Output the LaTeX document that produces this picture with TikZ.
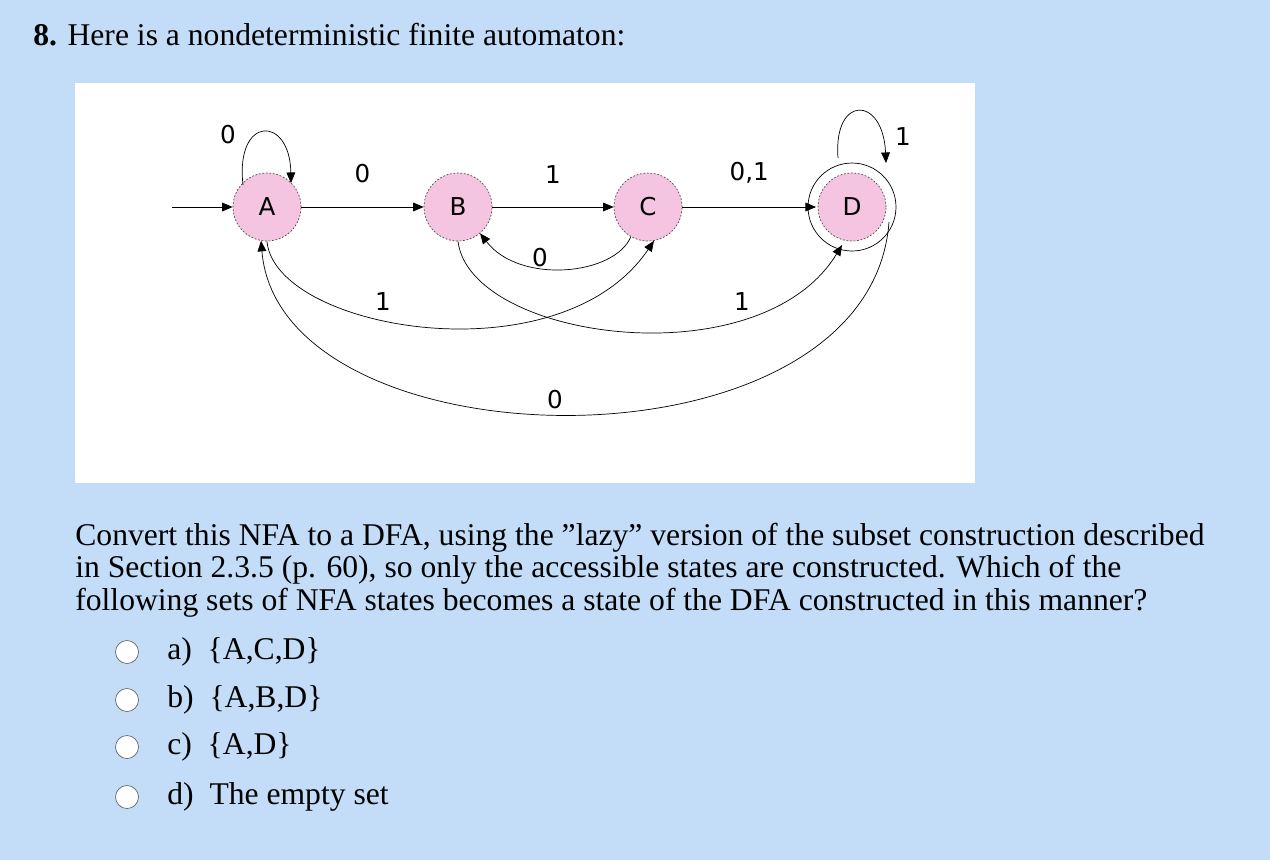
\documentclass[tikz,border=0pt]{standalone}
\usepackage{fontspec}
\setmainfont[Ligatures=Common]{Liberation Serif}
\newfontfamily\dv{DejaVu Sans}
\usetikzlibrary{arrows.meta}
\definecolor{bg}{HTML}{C3DDF8}
\definecolor{pinkfill}{HTML}{F4C4E0}
\begin{document}
\begin{tikzpicture}[x=0.02cm,y=-0.02cm,
  st/.style={circle,draw=black!70,dashed,dash pattern=on 1pt off 1pt,fill=pinkfill,minimum size=1.36cm,inner sep=0pt,font=\dv\fontsize{14}{14}\selectfont},
  ed/.style={draw,thin,-{Triangle[length=6pt,width=5pt]}},
  lb/.style={font=\dv\fontsize{14}{14}\selectfont},
  q/.style={anchor=west,font=\fontsize{18}{19}\selectfont},
  radio/.style={circle,draw=black!60,fill=white,minimum size=0.46cm,inner sep=0pt}]
\fill[bg] (0,0) rectangle (1270,860);
\useasboundingbox (0,0) rectangle (1270,860);
\fill[white] (75,83) rectangle (975,483);
\node[q,inner sep=0pt] (title) at (33,35) {\textbf{8.} Here is a nondeterministic finite automaton:};
\node[st] (A) at (267,207) {A};
\node[st] (B) at (458,207) {B};
\node[st] (C) at (648,207) {C};
\node[st] (D) at (852,207) {D};
\draw[thin] (D) circle (0.88cm);
\coordinate (s) at (172,207);
\draw[ed] (s) -- (A);
\draw[ed] (A) -- node[lb,above=10pt]{0} (B);
\draw[ed] (B) -- node[lb,above=10pt]{1} (C);
\draw[ed] (C) -- node[lb,above=10pt]{0,1} (816,207);
\draw[ed] (243,185) .. controls (235,115) and (290,115) .. (291,183);
\node[lb] (l0) at (228,135) {0};
\draw[ed] (838,158) .. controls (833,95) and (883,95) .. (886,163);
\node[lb] (l1) at (903,137) {1};
\draw[ed] (C.240) .. controls (615,275) and (520,285) .. (B.-50);
\node[lb] (l2) at (540,258) {0};
\draw[ed] (A.-90) .. controls (275,330) and (560,380) .. (C.-80);
\node[lb] (l3) at (383,302) {1};
\draw[ed] (B.-90) .. controls (470,340) and (760,380) .. (842,245);
\node[lb] (l4) at (742,302) {1};
\draw[ed] (889,222) .. controls (870,480) and (280,470) .. (A.-100);
\node[lb] (l5) at (555,400) {0};
\node[q,align=left,inner sep=0pt,font=\fontsize{18}{18.6}\selectfont] (qt) at (75,570) {Convert this NFA to a DFA, using the "lazy" version of the subset construction described\\ in Section 2.3.5 (p. 60), so only the accessible states are constructed. Which of the\\ following sets of NFA states becomes a state of the DFA constructed in this manner?};
\foreach \y/\t [count=\i] in {652/{a)\ \ \{A,C,D\}},700/{b)\ \ \{A,B,D\}},747/{c)\ \ \{A,D\}},797/{d)\ \ The empty set}}{
  \node[radio] (r\i) at (127,\y) {};
  \node[q,inner sep=0pt] (o\i) at (167,\y) {\t};
}
\end{tikzpicture}
\end{document}
